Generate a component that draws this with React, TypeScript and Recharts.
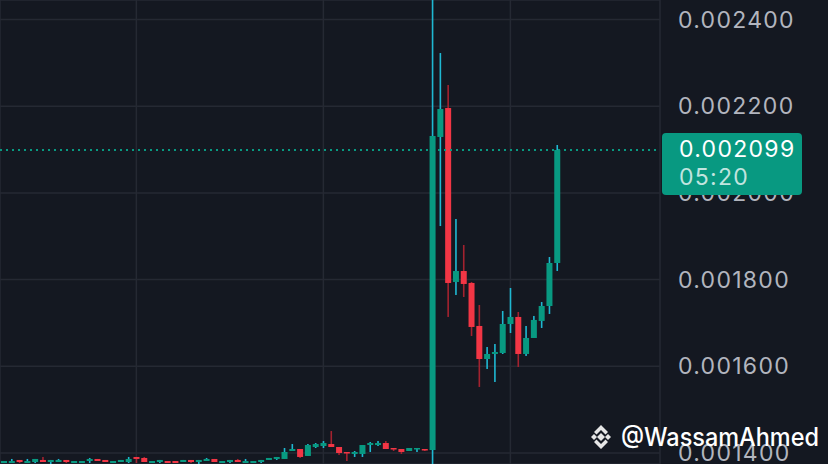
import React from 'react';
import { ComposedChart, Bar, XAxis, YAxis, CartesianGrid, ReferenceLine } from 'recharts';

// OHLC values (price in units of 1 coin)
const opens = [
  0.0013769, 0.0013769, 0.0013839, 0.0013769, 0.0013792, 0.0013839, 0.0013792, 0.0013792, 0.0013839, 0.0013769,
  0.0013769, 0.0013815, 0.0013862, 0.0013839, 0.0013769, 0.0013792, 0.0013792, 0.0013908, 0.0013885, 0.0013769,
  0.0013792, 0.0013815, 0.0013815, 0.0013792, 0.0013839, 0.0013792, 0.0013815, 0.0013862, 0.0013769, 0.0013792,
  0.0013839, 0.0013769, 0.0013769, 0.0013792, 0.0013839, 0.0013862, 0.0013862, 0.0014046, 0.0014092, 0.0013931,
  0.0014138, 0.0014161, 0.0014207, 0.0014138, 0.0014023, 0.0013977, 0.0013977, 0.0014184, 0.0014184, 0.0014230,
  0.0014115, 0.0014092, 0.0014046, 0.0014092, 0.0014092, 0.0014069, 0.0021290, 0.0021958, 0.0017945, 0.0018198,
  0.0017922, 0.0016930, 0.0016168, 0.0016284, 0.0016307, 0.0016976, 0.0017138, 0.0016284, 0.0016653, 0.0017046,
  0.0017391, 0.0018383,
];
const highs = [
  0.0013815, 0.0013862, 0.0013839, 0.0013862, 0.0013862, 0.0013908, 0.0013839, 0.0013862, 0.0013839, 0.0013815,
  0.0013815, 0.0013885, 0.0013862, 0.0013839, 0.0013815, 0.0013839, 0.0013908, 0.0013908, 0.0013908, 0.0013815,
  0.0013839, 0.0013815, 0.0013815, 0.0013839, 0.0013839, 0.0013839, 0.0013885, 0.0013862, 0.0013815, 0.0013839,
  0.0013862, 0.0013862, 0.0013815, 0.0013839, 0.0013885, 0.0013908, 0.0014115, 0.0014207, 0.0014092, 0.0014207,
  0.0014230, 0.0014276, 0.0014507, 0.0014138, 0.0014023, 0.0014046, 0.0014184, 0.0014253, 0.0014276, 0.0014276,
  0.0014115, 0.0014092, 0.0014115, 0.0014115, 0.0014092, 0.0024600, 0.0023227, 0.0022489, 0.0019398, 0.0018798,
  0.0017945, 0.0017414, 0.0016445, 0.0016514, 0.0017276, 0.0017806, 0.0017253, 0.0016930, 0.0017161, 0.0017483,
  0.0018521, 0.0021105,
];
const lows = [
  0.0013769, 0.0013769, 0.0013769, 0.0013769, 0.0013769, 0.0013792, 0.0013746, 0.0013792, 0.0013769, 0.0013769,
  0.0013769, 0.0013769, 0.0013815, 0.0013792, 0.0013769, 0.0013792, 0.0013769, 0.0013769, 0.0013792, 0.0013769,
  0.0013769, 0.0013769, 0.0013769, 0.0013792, 0.0013769, 0.0013746, 0.0013815, 0.0013792, 0.0013769, 0.0013769,
  0.0013792, 0.0013769, 0.0013769, 0.0013769, 0.0013839, 0.0013839, 0.0013862, 0.0014046, 0.0013885, 0.0013931,
  0.0014115, 0.0014115, 0.0014138, 0.0013954, 0.0013815, 0.0013908, 0.0013908, 0.0014023, 0.0014161, 0.0014092,
  0.0014046, 0.0013977, 0.0014046, 0.0014023, 0.0014046, 0.0013500, 0.0019236, 0.0017138, 0.0017645, 0.0017599,
  0.0016699, 0.0015523, 0.0015938, 0.0015638, 0.0016284, 0.0016768, 0.0015984, 0.0016238, 0.0016653, 0.0016884,
  0.0017207, 0.0018198,
];
const closes = [
  0.0013815, 0.0013815, 0.0013792, 0.0013815, 0.0013862, 0.0013792, 0.0013839, 0.0013839, 0.0013792, 0.0013815,
  0.0013815, 0.0013862, 0.0013815, 0.0013792, 0.0013815, 0.0013839, 0.0013862, 0.0013862, 0.0013792, 0.0013815,
  0.0013839, 0.0013769, 0.0013769, 0.0013839, 0.0013792, 0.0013839, 0.0013862, 0.0013792, 0.0013815, 0.0013839,
  0.0013792, 0.0013815, 0.0013815, 0.0013839, 0.0013885, 0.0013908, 0.0014023, 0.0014092, 0.0013908, 0.0014184,
  0.0014207, 0.0014230, 0.0014138, 0.0014000, 0.0014000, 0.0014023, 0.0014184, 0.0014230, 0.0014230, 0.0014092,
  0.0014092, 0.0014023, 0.0014115, 0.0014115, 0.0014069, 0.0021313, 0.0021935, 0.0017922, 0.0018198, 0.0017899,
  0.0016907, 0.0016168, 0.0016284, 0.0016330, 0.0016976, 0.0017138, 0.0016284, 0.0016653, 0.0017069, 0.0017391,
  0.0018383, 0.0020990,
];
const priceTicks = [0.0014, 0.0016, 0.0018, 0.002, 0.0022, 0.0024];
const timeGridIndex = [17, 41, 65];
const lastPrice = 0.002099;
const countdown = '05:20';
const watermark = '@WassamAhmed';

const data = opens.map((o, i) => ({ i, open: o, high: highs[i], low: lows[i], close: closes[i] }));

const X_DOMAIN: [number, number] = [-0.5, 84.2];
const Y_DOMAIN: [number, number] = [0.0013746, 0.002445];

const BG = '#141821';
const GRID = '#252933';
const UP = '#089981';
const DN = '#f23645';
const WICK_UP = '#1fb8d2';
const WICK_DN = '#a3222f';
const FONT = 'Inter, Roboto, "Noto Sans", sans-serif';

function Candle(props: any) {
  const { x, y, width, height, payload } = props;
  if (!payload || x == null || y == null) return null;
  const { open, close, high, low } = payload;
  const up = close >= open;
  const k = high > low ? height / (high - low) : 0;
  const yO = y + (high - open) * k;
  const yC = y + (high - close) * k;
  const top = Math.min(yO, yC);
  const h = Math.max(Math.abs(yO - yC), 1.5);
  const cx = x + width / 2;
  return (
    <g>
      <rect x={cx - 0.8} y={y} width={1.6} height={Math.max(height, 1)} fill={up ? WICK_UP : WICK_DN} />
      <rect x={x} y={top} width={width} height={h} fill={up ? UP : DN} />
    </g>
  );
}

function PriceTag(props: any) {
  const vb = props.viewBox;
  if (!vb) return null;
  const x0 = vb.x + vb.width + 2;
  const yy = vb.y;
  return (
    <g>
      <rect x={x0} y={yy - 17} width={140} height={62} rx={4} fill={UP} />
      <text x={x0 + 17} y={yy + 7} fill="#ffffff" fontSize={23} letterSpacing={1.3} fontFamily={FONT}>
        {lastPrice.toFixed(6)}
      </text>
      <text x={x0 + 17} y={yy + 35} fill="#ffffff" fillOpacity={0.75} fontSize={23} letterSpacing={1.3} fontFamily={FONT}>
        {countdown}
      </text>
    </g>
  );
}

export default function App() {
  return (
    <div style={{ position: 'absolute', left: 0, top: 0, width: 828, height: 464, background: BG, overflow: 'hidden' }}>
      <ComposedChart width={828} height={464} data={data} margin={{ top: 0, right: 0, bottom: 0, left: 0 }}>
        <CartesianGrid stroke={GRID} strokeWidth={1.5} />
        <XAxis dataKey="i" type="number" domain={X_DOMAIN} ticks={timeGridIndex} interval={0} allowDataOverflow hide />
        <YAxis
          orientation="right"
          width={168}
          domain={Y_DOMAIN}
          allowDataOverflow
          ticks={priceTicks}
          interval={0}
          axisLine={false}
          tickLine={false}
          tickSize={0}
          tickMargin={18}
          tickFormatter={(v: number) => v.toFixed(6)}
          tick={{ fill: '#b2b5be', fontSize: 23, letterSpacing: 1.3, fontFamily: FONT, textAnchor: 'start' }}
        />
        <Bar dataKey={(d: any) => [d.low, d.high]} barSize={6} shape={Candle} isAnimationActive={false} />
      </ComposedChart>
      <div style={{ position: 'absolute', left: 0, top: 0 }}>
        <ComposedChart width={828} height={464} data={data} margin={{ top: 0, right: 168, bottom: 0, left: 0 }}>
          <XAxis dataKey="i" type="number" domain={X_DOMAIN} allowDataOverflow hide />
          <YAxis domain={Y_DOMAIN} allowDataOverflow hide />
          <ReferenceLine y={lastPrice} stroke={UP} strokeWidth={2} strokeDasharray="2 4" label={<PriceTag />} />
        </ComposedChart>
      </div>
      <svg width={828} height={464} style={{ position: 'absolute', left: 0, top: 0, pointerEvents: 'none' }}>
        <g transform="translate(601,437)" fill="#e6e6e6">
          <polygon points="0,-4 4,0 0,4 -4,0" />
          <polygon points="-10,0 -7,-3 -4,0 -7,3" />
          <polygon points="10,0 7,-3 4,0 7,3" />
          <polygon points="0,-12 7,-5 4.5,-2.5 0,-7 -4.5,-2.5 -7,-5" />
          <polygon points="0,12 7,5 4.5,2.5 0,7 -4.5,2.5 -7,5" />
        </g>
        <text x={621} y={446} fill="#ffffff" fontSize={25} fontWeight={500} fontFamily={FONT} textLength={198} lengthAdjust="spacingAndGlyphs">
          {watermark}
        </text>
      </svg>
    </div>
  );
}
